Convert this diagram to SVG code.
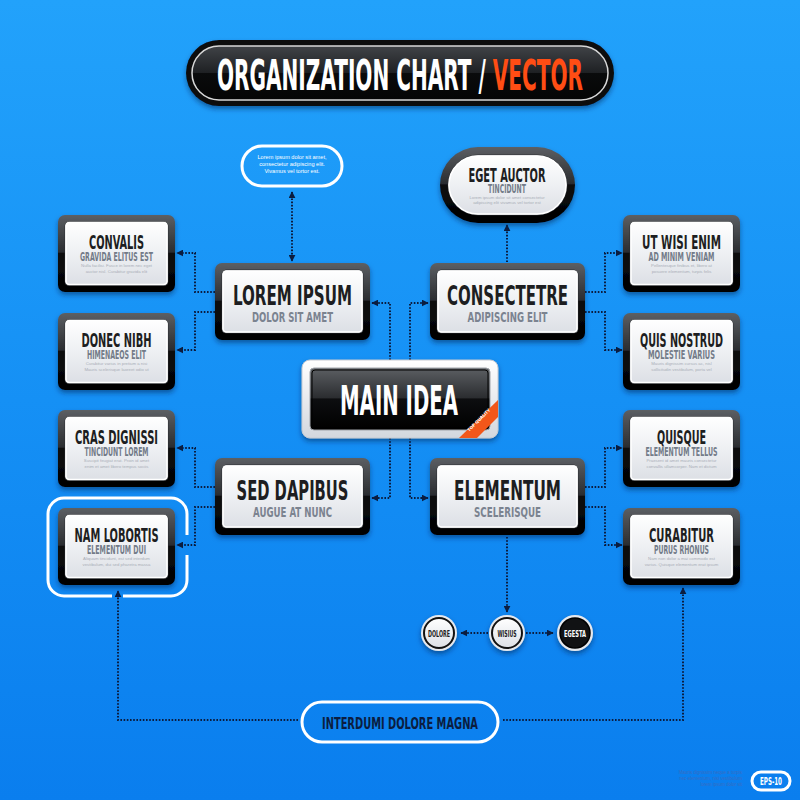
<svg xmlns="http://www.w3.org/2000/svg" width="800" height="800" viewBox="0 0 800 800">
<defs>
<linearGradient id="bg" x1="0" y1="0" x2="0" y2="1"><stop offset="0" stop-color="#22a2fb"/><stop offset="0.5" stop-color="#1590f5"/><stop offset="1" stop-color="#0a7eee"/></linearGradient>
<linearGradient id="dark" x1="0" y1="0" x2="0" y2="1"><stop offset="0" stop-color="#5c5f63"/><stop offset="0.48" stop-color="#2b2d30"/><stop offset="0.5" stop-color="#0d0e10"/><stop offset="1" stop-color="#000"/></linearGradient>
<linearGradient id="dark2" x1="0" y1="0" x2="0" y2="1"><stop offset="0" stop-color="#404347"/><stop offset="0.5" stop-color="#1e2023"/><stop offset="0.5" stop-color="#0a0b0c"/><stop offset="1" stop-color="#050505"/></linearGradient>
<linearGradient id="light" x1="0" y1="0" x2="0" y2="1"><stop offset="0" stop-color="#ffffff"/><stop offset="0.5" stop-color="#eef0f3"/><stop offset="1" stop-color="#dcdfe5"/></linearGradient>
<linearGradient id="light2" x1="0" y1="0" x2="0" y2="1"><stop offset="0" stop-color="#ffffff"/><stop offset="1" stop-color="#d3d7de"/></linearGradient>
<filter id="sh" x="-20%" y="-20%" width="140%" height="150%"><feDropShadow dx="0" dy="3" stdDeviation="2.5" flood-color="#002050" flood-opacity="0.5"/></filter>
<marker id="ah" viewBox="0 0 10 10" refX="9" refY="5" markerWidth="7" markerHeight="7" markerUnits="userSpaceOnUse" orient="auto-start-reverse"><path d="M0,0 L10,5 L0,10 Z" fill="#0b1d40"/></marker>
<style>
.bg{fill:url(#bg)}
.ob{fill:url(#dark);filter:url(#sh)}
.ibw{fill:none;stroke:#ffffff;stroke-width:1.6}
.ib{fill:url(#light);stroke:#2a2c30;stroke-width:0.8}
.f{font-family:"Liberation Sans Narrow","DejaVu Sans Condensed","DejaVu Sans",sans-serif;font-weight:bold;text-anchor:middle}
.ttl{font-size:20px;fill:#1d1e21}
.sub{font-size:12px;fill:#737b88}
.big{font-size:27px;fill:#1d1e21}
.bsub{font-size:14px;fill:#7b8390}
.sm{font-family:"Liberation Sans","DejaVu Sans",sans-serif;font-weight:normal;font-size:4.3px;fill:#a9aeb7}
.con{fill:none;stroke:#0b1d40;stroke-width:2;stroke-dasharray:1.6 1.6;marker-end:url(#ah)}
.wl{fill:none;stroke:#ffffff;stroke-width:3}
</style>
</defs>
<rect class="bg" x="0" y="0" width="800" height="800"/>

<g id="title">
<rect x="186" y="40" width="428" height="66" rx="33" fill="#0a0a0b" filter="url(#sh)"/>
<rect x="192" y="46" width="416" height="54" rx="27" fill="url(#dark2)" stroke="#d8d8d8" stroke-width="1.5"/>
<text class="f" x="400" y="90" font-size="42" fill="#ffffff" textLength="366" lengthAdjust="spacingAndGlyphs">ORGANIZATION CHART / <tspan fill="#ff4d14">VECTOR</tspan></text>
</g>

<g id="connectors">
<path class="con" d="M292,192 V261" marker-start="url(#ah)"/>
<path class="con" d="M507,262 V225"/>
<path class="con" d="M390,360 V303 H372"/>
<path class="con" d="M410,360 V303 H428"/>
<path class="con" d="M390,438 V498 H372"/>
<path class="con" d="M410,438 V498 H428"/>
<path class="con" d="M215,292 H195 V253 H177"/>
<path class="con" d="M215,312 H195 V350 H177"/>
<path class="con" d="M215,487 H195 V448 H177"/>
<path class="con" d="M215,507 H195 V545 H177"/>
<path class="con" d="M585,292 H605 V253 H622"/>
<path class="con" d="M585,312 H605 V350 H622"/>
<path class="con" d="M585,487 H605 V448 H622"/>
<path class="con" d="M585,507 H605 V545 H622"/>
<path class="con" d="M507,537 V612"/>
<path class="con" d="M488,633 H461"/>
<path class="con" d="M526,633 H553"/>
<path class="con" d="M298,720 H118 V591"/>
<path class="con" d="M503,720 H683 V588"/>
</g>

<g id="bubble">
<rect x="242" y="146" width="100" height="40" rx="20" class="wl" stroke-width="2"/>
<text font-family="Liberation Sans, DejaVu Sans, sans-serif" font-size="5.6" fill="#ffffff" text-anchor="middle"><tspan x="292" y="159">Lorem ipsum dolor sit amet,</tspan><tspan x="292" y="166">consectetur adipiscing elit.</tspan><tspan x="292" y="173">Vivamus vel tortor est.</tspan></text>
</g>

<g id="eget-auctor">
<rect x="440" y="147" width="135" height="76" rx="38" class="ob"/>
<rect x="448" y="155" width="119" height="60" rx="30" class="ib"/>
<rect x="449" y="156" width="117" height="58" rx="29" class="ibw" stroke-width="1.2"/>
<text class="f"><tspan class="ttl" x="507" y="182" font-size="19" textLength="77" lengthAdjust="spacingAndGlyphs">EGET AUCTOR</tspan><tspan class="sub" x="507" y="193" font-size="11" textLength="38" lengthAdjust="spacingAndGlyphs">TINCIDUNT</tspan><tspan class="sm" x="507" y="199">Lorem ipsum dolor sit amet consectetur</tspan><tspan class="sm" x="507" y="204">adipiscing elit vivamus vel tortor est</tspan></text>
</g>

<g id="lorem-ipsum" transform="translate(215,263)">
<rect class="ob" width="155" height="77" rx="7"/>
<rect class="ib" x="7" y="7" width="141" height="63" rx="4"/>
<rect class="ibw" x="8" y="8" width="139" height="61" rx="3.5"/>
<text class="f"><tspan class="big" x="77.5" y="42" textLength="119" lengthAdjust="spacingAndGlyphs">LOREM IPSUM</tspan><tspan class="bsub" x="77.5" y="59" textLength="81" lengthAdjust="spacingAndGlyphs">DOLOR SIT AMET</tspan></text>
</g>

<g id="consectetre" transform="translate(430,263)">
<rect class="ob" width="155" height="77" rx="7"/>
<rect class="ib" x="7" y="7" width="141" height="63" rx="4"/>
<rect class="ibw" x="8" y="8" width="139" height="61" rx="3.5"/>
<text class="f"><tspan class="big" x="77.5" y="42" textLength="121" lengthAdjust="spacingAndGlyphs">CONSECTETRE</tspan><tspan class="bsub" x="77.5" y="59" textLength="80" lengthAdjust="spacingAndGlyphs">ADIPISCING ELIT</tspan></text>
</g>

<g id="sed-dapibus" transform="translate(215,458)">
<rect class="ob" width="155" height="77" rx="7"/>
<rect class="ib" x="7" y="7" width="141" height="63" rx="4"/>
<rect class="ibw" x="8" y="8" width="139" height="61" rx="3.5"/>
<text class="f"><tspan class="big" x="77.5" y="42" textLength="112" lengthAdjust="spacingAndGlyphs">SED DAPIBUS</tspan><tspan class="bsub" x="77.5" y="59" textLength="79" lengthAdjust="spacingAndGlyphs">AUGUE AT NUNC</tspan></text>
</g>

<g id="elementum" transform="translate(430,458)">
<rect class="ob" width="155" height="77" rx="7"/>
<rect class="ib" x="7" y="7" width="141" height="63" rx="4"/>
<rect class="ibw" x="8" y="8" width="139" height="61" rx="3.5"/>
<text class="f"><tspan class="big" x="77.5" y="42" textLength="107" lengthAdjust="spacingAndGlyphs">ELEMENTUM</tspan><tspan class="bsub" x="77.5" y="59" textLength="67" lengthAdjust="spacingAndGlyphs">SCELERISQUE</tspan></text>
</g>

<g id="main-idea">
<rect x="302" y="360" width="196" height="78" rx="8" fill="url(#light2)" stroke="#c5cad2" stroke-width="1" filter="url(#sh)"/>
<rect x="310" y="368" width="180" height="62" rx="4" fill="url(#dark)" stroke="#a0a4aa" stroke-width="1"/>
<rect x="312" y="370" width="176" height="58" rx="3" fill="none" stroke="#000" stroke-width="1"/>
<text class="f" x="399" y="415" font-size="41" fill="#ffffff" textLength="118" lengthAdjust="spacingAndGlyphs">MAIN IDEA</text>
<polygon points="459,438 477,438 498,417 498,400" fill="#f2571a"/>
<text font-family="DejaVu Sans Condensed, DejaVu Sans, sans-serif" font-weight="bold" font-size="4.5" fill="#ffffff" text-anchor="middle" transform="translate(480,421) rotate(-45)">TOP QUALITY</text>
</g>

<g id="convalis" transform="translate(58,215)">
<rect class="ob" width="117" height="77" rx="7"/>
<rect class="ib" x="7" y="6.5" width="103" height="64" rx="4"/>
<rect class="ibw" x="8" y="7.5" width="101" height="62" rx="3.5"/>
<text class="f"><tspan class="ttl" x="58.5" y="34" textLength="55" lengthAdjust="spacingAndGlyphs">CONVALIS</tspan><tspan class="sub" x="58.5" y="46" textLength="73" lengthAdjust="spacingAndGlyphs">GRAVIDA ELITUS EST</tspan><tspan class="sm" x="58.5" y="52">Nulla facilisi. Fusce in lorem nec eget</tspan><tspan class="sm" x="58.5" y="57.5">auctor nisl. Curabitur gravida elit</tspan></text>
</g>

<g id="donec-nibh" transform="translate(58,313)">
<rect class="ob" width="117" height="77" rx="7"/>
<rect class="ib" x="7" y="6.5" width="103" height="64" rx="4"/>
<rect class="ibw" x="8" y="7.5" width="101" height="62" rx="3.5"/>
<text class="f"><tspan class="ttl" x="58.5" y="34" textLength="70" lengthAdjust="spacingAndGlyphs">DONEC NIBH</tspan><tspan class="sub" x="58.5" y="46" textLength="59" lengthAdjust="spacingAndGlyphs">HIMENAEOS ELIT</tspan><tspan class="sm" x="58.5" y="52">Curabitur varius in pretium a nisi</tspan><tspan class="sm" x="58.5" y="57.5">Mauris scelerisque laoreet odio ut</tspan></text>
</g>

<g id="cras-dignissi" transform="translate(58,410)">
<rect class="ob" width="117" height="77" rx="7"/>
<rect class="ib" x="7" y="6.5" width="103" height="64" rx="4"/>
<rect class="ibw" x="8" y="7.5" width="101" height="62" rx="3.5"/>
<text class="f"><tspan class="ttl" x="58.5" y="34" textLength="83" lengthAdjust="spacingAndGlyphs">CRAS DIGNISSI</tspan><tspan class="sub" x="58.5" y="46" textLength="64" lengthAdjust="spacingAndGlyphs">TINCIDUNT LOREM</tspan><tspan class="sm" x="58.5" y="52">Suscipit feugiat erat. Proin id amet</tspan><tspan class="sm" x="58.5" y="57.5">enim et amet libero tempus sociis</tspan></text>
</g>

<g id="nam-lobortis" transform="translate(58,508)">
<rect class="ob" width="117" height="77" rx="7"/>
<rect class="ib" x="7" y="6.5" width="103" height="64" rx="4"/>
<rect class="ibw" x="8" y="7.5" width="101" height="62" rx="3.5"/>
<text class="f"><tspan class="ttl" x="58.5" y="34" textLength="84" lengthAdjust="spacingAndGlyphs">NAM LOBORTIS</tspan><tspan class="sub" x="58.5" y="46" textLength="59" lengthAdjust="spacingAndGlyphs">ELEMENTUM DUI</tspan><tspan class="sm" x="58.5" y="52">Aliquam tincidunt, est sed interdum</tspan><tspan class="sm" x="58.5" y="57.5">vestibulum, dui sed pharetra massa</tspan></text>
<path class="wl" stroke-width="3.5" d="M65,88 H113 A16,16 0 0 0 129,72 V47 M129,27 V6 A16,16 0 0 0 113,-10 H6 A16,16 0 0 0 -10,6 V72 A16,16 0 0 0 6,88 H54"/>
</g>

<g id="ut-wisi-enim" transform="translate(623,215)">
<rect class="ob" width="117" height="77" rx="7"/>
<rect class="ib" x="7" y="6.5" width="103" height="64" rx="4"/>
<rect class="ibw" x="8" y="7.5" width="101" height="62" rx="3.5"/>
<text class="f"><tspan class="ttl" x="58.5" y="34" textLength="79" lengthAdjust="spacingAndGlyphs">UT WISI ENIM</tspan><tspan class="sub" x="58.5" y="46" textLength="66" lengthAdjust="spacingAndGlyphs">AD MINIM VENIAM</tspan><tspan class="sm" x="58.5" y="52">Pellentesque finibus et, libero at</tspan><tspan class="sm" x="58.5" y="57.5">posuere elementum, turpis felis</tspan></text>
</g>

<g id="quis-nostrud" transform="translate(623,313)">
<rect class="ob" width="117" height="77" rx="7"/>
<rect class="ib" x="7" y="6.5" width="103" height="64" rx="4"/>
<rect class="ibw" x="8" y="7.5" width="101" height="62" rx="3.5"/>
<text class="f"><tspan class="ttl" x="58.5" y="34" textLength="83" lengthAdjust="spacingAndGlyphs">QUIS NOSTRUD</tspan><tspan class="sub" x="58.5" y="46" textLength="67" lengthAdjust="spacingAndGlyphs">MOLESTIE VARIUS</tspan><tspan class="sm" x="58.5" y="52">Mauris dignissim cursus ac, nisl</tspan><tspan class="sm" x="58.5" y="57.5">sollicitudin vestibulum, porta vel</tspan></text>
</g>

<g id="quisque" transform="translate(623,410)">
<rect class="ob" width="117" height="77" rx="7"/>
<rect class="ib" x="7" y="6.5" width="103" height="64" rx="4"/>
<rect class="ibw" x="8" y="7.5" width="101" height="62" rx="3.5"/>
<text class="f"><tspan class="ttl" x="58.5" y="34" textLength="49" lengthAdjust="spacingAndGlyphs">QUISQUE</tspan><tspan class="sub" x="58.5" y="46" textLength="72" lengthAdjust="spacingAndGlyphs">ELEMENTUM TELLUS</tspan><tspan class="sm" x="58.5" y="52">Praesent id amet mauris consectetur</tspan><tspan class="sm" x="58.5" y="57.5">convallis ullamcorper. Nam et dictum</tspan></text>
</g>

<g id="curabitur" transform="translate(623,508)">
<rect class="ob" width="117" height="77" rx="7"/>
<rect class="ib" x="7" y="6.5" width="103" height="64" rx="4"/>
<rect class="ibw" x="8" y="7.5" width="101" height="62" rx="3.5"/>
<text class="f"><tspan class="ttl" x="58.5" y="34" textLength="65" lengthAdjust="spacingAndGlyphs">CURABITUR</tspan><tspan class="sub" x="58.5" y="46" textLength="55" lengthAdjust="spacingAndGlyphs">PURUS RHONUS</tspan><tspan class="sm" x="58.5" y="52">Nam non dolor a mai commodo est</tspan><tspan class="sm" x="58.5" y="57.5">varius. Quisque elementum erat ipsum</tspan></text>
</g>

<g id="dolore">
<circle cx="439" cy="633" r="18" fill="#e6e9ee" filter="url(#sh)"/>
<circle cx="439" cy="633" r="15" fill="url(#light)" stroke="#111" stroke-width="2"/>
<text class="f" x="439" y="637" font-size="9.5" fill="#1d1e21" textLength="22" lengthAdjust="spacingAndGlyphs">DOLORE</text>
</g>
<g id="wisius">
<circle cx="507" cy="633" r="18" fill="#e6e9ee" filter="url(#sh)"/>
<circle cx="507" cy="633" r="15" fill="url(#light)" stroke="#111" stroke-width="2"/>
<text class="f" x="507" y="637" font-size="9.5" fill="#1d1e21" textLength="19" lengthAdjust="spacingAndGlyphs">WISIUS</text>
</g>
<g id="egesta">
<circle cx="575" cy="633" r="18" fill="#e6e9ee" filter="url(#sh)"/>
<circle cx="575" cy="633" r="15" fill="#111214" stroke="#000" stroke-width="1.5"/>
<text class="f" x="575" y="637" font-size="9.5" fill="#ffffff" textLength="22" lengthAdjust="spacingAndGlyphs">EGESTA</text>
</g>

<g id="interdumi">
<rect x="302" y="702" width="196" height="40" rx="20" class="wl"/>
<text class="f" x="400" y="729" font-size="16.5" fill="#0b1d40" textLength="156" lengthAdjust="spacingAndGlyphs">INTERDUMI DOLORE MAGNA</text>
</g>

<g id="eps">
<rect x="752" y="772" width="38" height="18" rx="9" class="wl" stroke-width="2"/>
<text class="f" x="771" y="785" font-size="10" fill="#ffffff" textLength="22" lengthAdjust="spacingAndGlyphs">EPS-10</text>
<text font-family="Liberation Sans, DejaVu Sans, sans-serif" font-size="4.5" fill="#3b6cc0" text-anchor="end"><tspan x="742" y="774">Mauris dignissim neque a turpis</tspan><tspan x="742" y="780">nec elementum, nisi vestibulum</tspan><tspan x="742" y="786">lorem ipsum dolor sit</tspan></text>
</g>
</svg>
